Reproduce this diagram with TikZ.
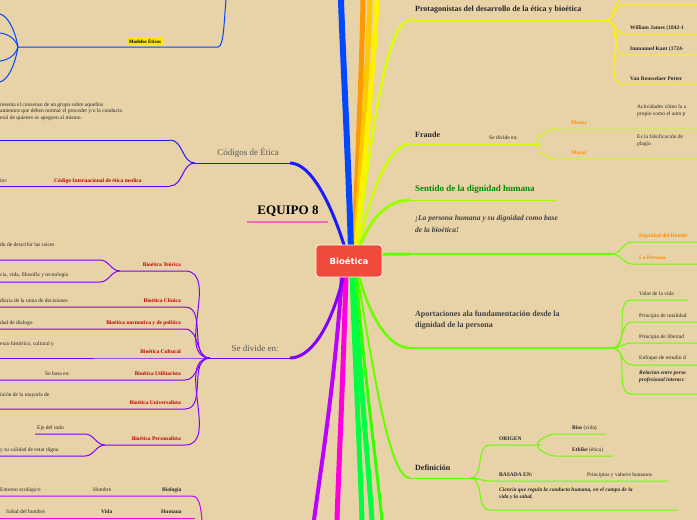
\documentclass[tikz,border=0pt]{standalone}
\usepackage{fontspec}
\setmainfont{Liberation Serif}
\newfontfamily\dvs{DejaVu Sans}
\begin{document}
\begin{tikzpicture}[x=1pt,y=-1pt,
 t/.style={anchor=base west,inner sep=0,font=\fontsize{5.5}{6.5}\selectfont,text=black!85},
 tb/.style={t,font=\fontsize{5.5}{6.5}\selectfont\bfseries},
 tr/.style={tb,text=red!75!black},
 tor/.style={tb,text=orange!90!yellow},
 tbi/.style={t,font=\fontsize{5.5}{6.5}\selectfont\bfseries\itshape,align=left},
 hd/.style={anchor=base west,inner sep=0,font=\fontsize{8}{9.5}\selectfont\bfseries,text=black!85,align=left},
 br/.style={line width=1pt},
 fk/.style={out=0,in=180,line width=1pt},
 fkl/.style={out=180,in=0,line width=1pt}]
\definecolor{bg}{HTML}{E8D3A8}
\definecolor{cblue}{HTML}{0047FF}
\definecolor{cblue2}{HTML}{1A1AFF}
\definecolor{cpurp}{HTML}{7F00FF}
\definecolor{cmag}{HTML}{FF00DD}
\definecolor{cvio}{HTML}{C000FF}
\definecolor{cg1}{HTML}{00FF40}
\definecolor{cg2}{HTML}{33FF00}
\definecolor{cg3}{HTML}{66FF00}
\definecolor{cg4}{HTML}{99FF00}
\definecolor{cyg}{HTML}{CCFF00}
\definecolor{cyg2}{HTML}{DDFF00}
\definecolor{cy}{HTML}{FFF200}
\definecolor{cgold}{HTML}{FFC800}
\definecolor{cor}{HTML}{FF9900}
\definecolor{cred}{HTML}{F04A3C}
\useasboundingbox (0,0) rectangle (697,520);
\fill[bg] (0,0) rectangle (697,520);
\clip (0,0) rectangle (697,520);
\coordinate (c) at (349,261);
\draw[cor,line width=5pt] (354,250) .. controls (358,150) and (362,60) .. (363,0);
\draw[cgold,line width=5pt] (355,250) .. controls (362,150) and (368,60) .. (370,0);
\draw[cy,line width=5pt] (356,250) .. controls (366,150) and (374,60) .. (377,0);
\draw[cblue,line width=6pt] (351,250) .. controls (348,150) and (343,60) .. (341,0);
\draw[cyg2,line width=2.5pt] (357,248) .. controls (370,150) and (385,20) .. (410,20);
\draw[cyg2,br] (410,20) -- (605,20);
\draw[cyg,line width=2.5pt] (358,250) .. controls (370,190) and (390,144) .. (410,144);
\draw[cyg,br] (410,144) -- (540,144);
\draw[cg4,line width=3pt] (358,252) .. controls (370,215) and (390,200) .. (410,200);
\draw[cg4,br] (410,200) -- (555,200);
\draw[cg3,line width=3pt] (370,256) .. controls (380,254) and (390,254) .. (410,254);
\draw[cg3,line width=2.5pt] (358,272) .. controls (370,320) and (390,348) .. (410,348);
\draw[cg3,line width=2pt] (357,274) .. controls (375,380) and (390,478) .. (410,478);
\draw[cg3,br] (410,478) -- (470,478);
\draw[cg1,line width=5pt] (352,275) .. controls (356,380) and (360,460) .. (362,520);
\draw[cg1,line width=5pt] (354,275) .. controls (360,380) and (368,460) .. (372,520);
\draw[cg2,line width=3pt] (356,275) .. controls (365,380) and (376,460) .. (382,520);
\draw[cmag,line width=5pt] (346,275) .. controls (343,380) and (339,460) .. (337,520);
\draw[cvio,line width=4pt] (342,275) .. controls (335,380) and (322,460) .. (314,520);
\draw[cblue2,line width=3pt] (345,248) .. controls (330,200) and (310,163) .. (290,163);
\draw[cblue2,br] (290,163) -- (195,163);
\draw[cpurp,line width=3pt] (343,278) .. controls (330,330) and (310,358) .. (290,358);
\draw[cpurp,br] (290,358) -- (205,358);
\node[draw=white,line width=0.8pt,fill=cred,rounded corners=3pt,minimum width=66pt,minimum height=32pt,text=white,font=\dvs\bfseries\fontsize{8.5}{10}\selectfont] (bio) at (c) {Bioética};
\node[anchor=base,inner sep=0,font=\fontsize{13}{15}\selectfont\bfseries] (eq) at (288,214) {EQUIPO 8};
\draw[magenta!60,line width=1.2pt] (247,222) -- (328,222);
\draw[cblue,br] (18,47) -- (218,47) .. controls (224,47) and (224,20) .. (226,0);
\draw[cblue,br] (18,47) .. controls (15,30) and (8,16) .. (0,14);
\draw[cblue,br] (18,47) .. controls (15,38) and (8,34) .. (0,33);
\draw[cblue,br] (18,47) .. controls (15,56) and (8,60) .. (0,61);
\draw[cblue,br] (18,47) .. controls (15,65) and (8,80) .. (0,82);
\node[fill=yellow!90!orange,inner sep=2pt,font=\fontsize{5}{6}\selectfont\bfseries] (me) at (145,41) {Modelos Éticos};
\node[anchor=base,inner sep=0,font=\fontsize{9}{11}\selectfont,text=black!65] (cod) at (248,155) {Códigos de Ética};
\draw[cblue2,br] (195,163) to[fkl] (170,140);
\draw[cblue2,br] (170,140) -- (0,140);
\draw[cpurp!70!blue,br] (195,163) to[fkl] (170,186);
\draw[cpurp!70!blue,br] (170,186) -- (0,186);
\node[t,align=left] (c1) at (0,119) {resenta el consenso de un grupo sobre aquellos\\amientos que deben normar el proceder y/o la conducta\\eral de quienes se apeguen al mismo.};
\node[t] (c2) at (0,182) {ite:};
\node[tr] (c3) at (54,182) {Código Internacional de ética medica};
\node[anchor=base,inner sep=0,font=\fontsize{9}{11}\selectfont,text=black!65] (sd) at (255,351) {Se divide en:};
\foreach \y/\lab/\e in {271/Bioética Teórica/120, 307/Bioética Clínica/0, 329/Bioética normativa y de política/0, 358/Bioética Cultural/0, 380/Bioética Utilitarista/0, 409/Bioética Universalista/0, 445/Bioética Personalista/105}{
  \draw[cpurp,br] (210,358) to[fkl] (185,\y) -- (\e,\y);
  \node[tr,anchor=base east] at (181,\y-5) {\lab};
}
\draw[cpurp,br] (120,271) to[fkl] (100,260) -- (0,260);
\draw[cpurp,br] (120,271) to[fkl] (100,282) -- (0,282);
\draw[cpurp,br] (105,445) to[fkl] (85,434) -- (35,434);
\draw[cpurp,br] (105,445) to[fkl] (85,456) -- (0,456);
\node[t] at (0,246) {do de describir las raices};
\node[t] at (0,276) {cia, vida, filosofía y tecnologia};
\node[t] at (0,302) {diaria de la toma de decisiones};
\node[t] at (0,324) {dad de dialogo};
\node[t] at (0,345) {exto histórico, cultural y};
\node[t] at (45,375) {Se basa en:};
\node[t] at (0,396) {inión de la mayoría de};
\node[t] at (37,429) {Eje del todo};
\node[t] at (0,451) {y su calidad de estar digna};
\draw[cvio,br] (0,496) -- (192,496) .. controls (200,496) and (201,510) .. (202,520);
\draw[cmag,br] (0,518) -- (195,518);
\node[t] at (0,491) {Entorno ecológico};
\node[t] at (93,491) {Hombre};
\node[tb] at (162,491) {Biología};
\node[t] at (6,513) {Salud del hombre};
\node[tb] at (101,513) {Vida};
\node[tb] at (161,513) {Humana};
\node[hd] (pro) at (415,11) {Protagonistas del desarrollo de la ética y bioética};
\foreach \y in {-4,4,34,55,85}{\draw[cy,br] (605,20) to[fk] (625,\y) -- (697,\y);}
\node[tb] at (630,29) {William James (1842-1};
\node[tb] at (630,50) {Immanuel Kant (1724-};
\node[tb] at (630,80) {Van Rensselaer Potter};
\node[hd] (fr) at (415,137) {Fraude};
\node[t] at (489,139) {Se divide en:};
\draw[cyg,br] (540,144) to[out=180,in=180,looseness=1.2] (555,129) -- (697,129);
\draw[cyg,br] (540,144) to[out=180,in=180,looseness=1.2] (555,159) -- (697,159);
\node[tor] at (571,124) {Menor};
\node[tor] at (571,154) {Mayor};
\node[t,align=left] at (637,115) {Actividades cómo la a\\propio como el auto p};
\node[t,align=left] at (637,145) {Es la falsificación de\\plagio};
\node[hd,text=green!55!black,font=\fontsize{9}{11}\selectfont\bfseries] (sen) at (415,191) {Sentido de la dignidad humana};
\node[hd,font=\fontsize{7.5}{12}\selectfont\bfseries\itshape,text=black!75] (lp) at (415,232) {¡La persona humana y su dignidad como base\\de la bioética!};
\fill[cg3] (405,253) rectangle (612,255);
\foreach \y in {242,264}{\draw[cg3,br] (612,254) to[fk] (632,\y) -- (697,\y);}
\node[tor] at (639,237) {Dignidad del Hombr};
\node[tor] at (639,259) {La Persona};
\node[hd,font=\fontsize{8}{11}\selectfont\bfseries,text=black!75] (ap) at (415,327) {Aportaciones ala fundamentación desde la\\dignidad de la persona};
\fill[cg3] (405,347) rectangle (612,349);
\foreach \y/\e in {300/688,322/697,343/697,365/697,394/697}{\draw[cg3,br] (612,348) to[fk] (632,\y) -- (\e,\y);}
\node[t] at (639,295) {Valor de la vida};
\node[t] at (639,317) {Principio de totalidad};
\node[t] at (639,338) {Principio de libertad};
\node[t] at (639,359) {Enfoque de estudio d};
\node[tbi] at (639,381) {Relacion entre perso\\profesional interacc};
\node[hd] (def) at (415,470) {Definición};
\draw[cg3,br] (470,478) to[fk] (490,445) -- (540,445);
\draw[cg3,br] (540,445) to[out=180,in=180,looseness=1.2] (555,434) -- (606,434);
\draw[cg3,br] (540,445) to[out=180,in=180,looseness=1.2] (555,456) -- (613,456);
\draw[cg3,br] (470,478) to[fk] (490,481) -- (668,481);
\draw[cg3,br] (470,478) to[fk] (490,510) -- (678,510);
\node[tb] at (499,440) {ORIGEN};
\node[t] at (572,429) {\textbf{Bios} (vida)};
\node[t] at (572,451) {\textbf{Ethike} (ética)};
\node[tb] at (499,476) {BASADA EN:};
\node[t] at (587,476) {Principios y valores humanos};
\node[tbi] at (499,498) {Ciencia que regula la conducta humana, en el campo de la\\vida y la salud.};
\end{tikzpicture}
\end{document}
